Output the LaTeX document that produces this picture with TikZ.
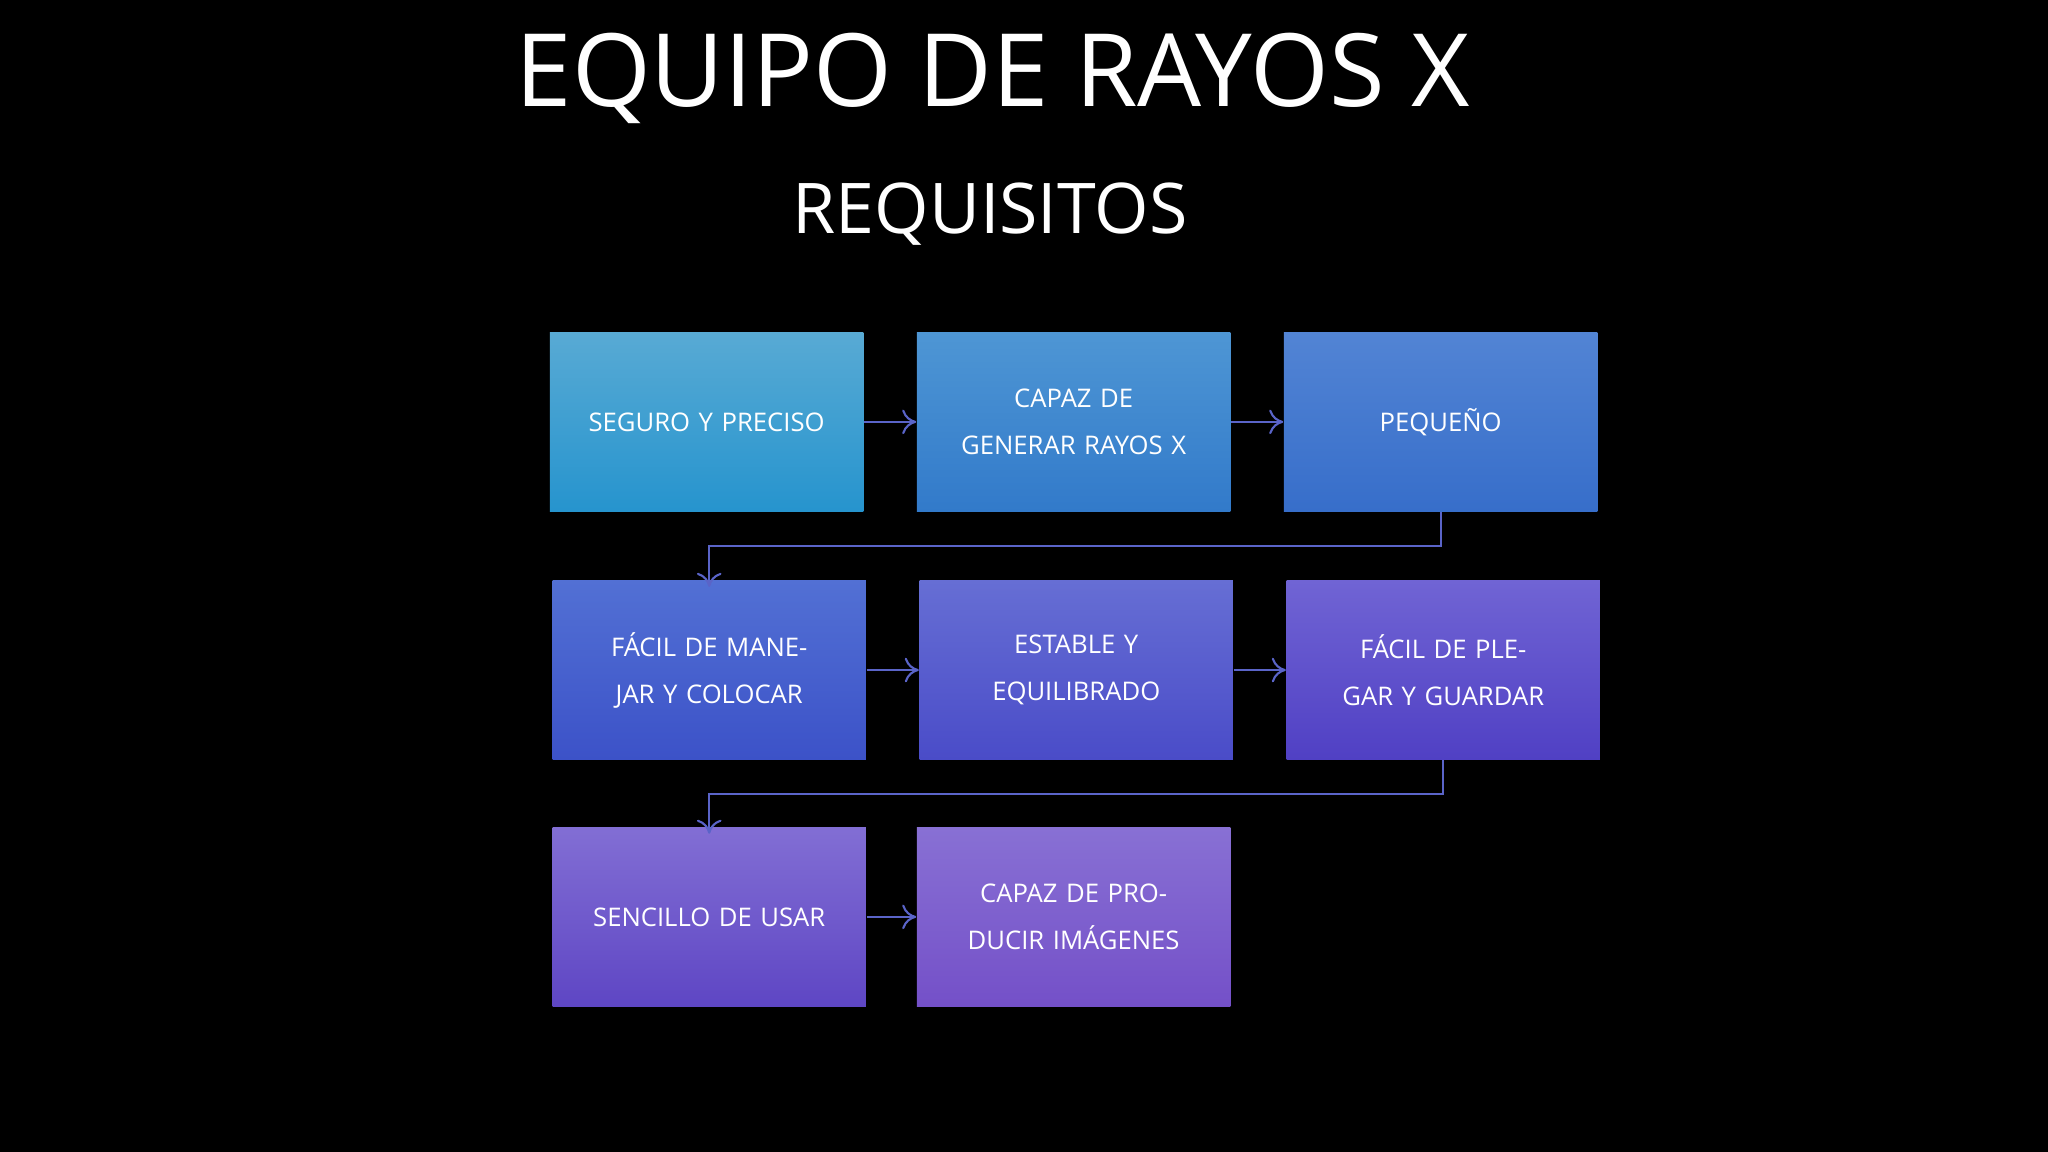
\documentclass[tikz,border=0pt]{standalone}
\usepackage{fontspec}
\setmainfont{Open Sans}
\usetikzlibrary{arrows.meta}
\definecolor{cA1}{RGB}{88,170,212}\definecolor{cA2}{RGB}{38,148,206}
\definecolor{cB1}{RGB}{78,150,212}\definecolor{cB2}{RGB}{50,122,202}
\definecolor{cC1}{RGB}{82,132,212}\definecolor{cC2}{RGB}{55,110,202}
\definecolor{cD1}{RGB}{82,112,212}\definecolor{cD2}{RGB}{60,82,200}
\definecolor{cE1}{RGB}{102,110,212}\definecolor{cE2}{RGB}{74,76,200}
\definecolor{cF1}{RGB}{112,100,212}\definecolor{cF2}{RGB}{80,64,196}
\definecolor{cG1}{RGB}{130,110,212}\definecolor{cG2}{RGB}{94,70,196}
\definecolor{cH1}{RGB}{136,112,212}\definecolor{cH2}{RGB}{116,80,200}
\definecolor{linkcol}{RGB}{90,100,200}
\begin{document}
\begin{tikzpicture}[x=0.01306cm,y=-0.01306cm,
    req box/.style 2 args={rectangle,minimum width=2.98cm,minimum height=1.79cm,
      text width=2.9cm,align=center,top color=#1,bottom color=#2,draw=none,
      text=white,font=\fontsize{7.3}{13.4}\selectfont},
    link/.style={-{To[length=4pt,width=7pt]},draw=linkcol,line width=0.6pt}]
  \fill[black] (0,0) rectangle (1568,882);
  \useasboundingbox (0,0) rectangle (1568,882);
  \node[text=white,font=\fontsize{28.8}{34}\selectfont] (title) at (760,60) {EQUIPO DE RAYOS X};
  \node[text=white,font=\fontsize{19.9}{24}\selectfont] (sub) at (758,164) {REQUISITOS};
  % first row
  \node[req box={cA1}{cA2}] (seguro) at (541,323) {SEGURO Y PRECISO};
  \node[req box={cB1}{cB2}] (capaz) at (822,323) {CAPAZ DE GENERAR RAYOS X};
  \node[req box={cC1}{cC2}] (peq) at (1103,323) {PEQUEÑO};
  % second row
  \node[req box={cD1}{cD2}] (facil) at (543,513) {FÁCIL DE MANEJAR Y COLOCAR};
  \node[req box={cE1}{cE2}] (estable) at (824,513) {ESTABLE Y EQUILIBRADO};
  \node[req box={cF1}{cF2}] (plegar) at (1105,513) {FÁCIL DE PLEGAR Y GUARDAR};
  % third row
  \node[req box={cG1}{cG2}] (sencillo) at (543,702) {SENCILLO DE USAR};
  \node[req box={cH1}{cH2}] (imagen) at (822,702) {CAPAZ DE PRODUCIR IMÁGENES};

  \draw[link] (seguro) -- (capaz);
  \draw[link] (capaz) -- (peq);
  \draw[link] (peq.south) |- (543,418) -- ([yshift=-2pt]facil.north);
  \draw[link] (facil) -- (estable);
  \draw[link] (estable) -- (plegar);
  \draw[link] (plegar.south) |- (543,608) -- ([yshift=-2pt]sencillo.north);
  \draw[link] (sencillo) -- (imagen);
\end{tikzpicture}
\end{document}
